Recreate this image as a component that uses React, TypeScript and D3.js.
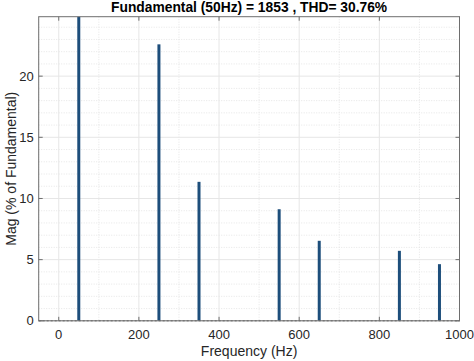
import React from "react";
import * as d3 from "d3";

const frequencies = [50, 250, 350, 550, 650, 850, 950];
const magnitudes = [100, 22.6, 11.36, 9.12, 6.54, 5.72, 4.63];
const xTicks = [0, 200, 400, 600, 800, 1000];
const yTicks = [0, 5, 10, 15, 20];
const xMinor = [-50, 100, 300, 500, 700, 900];
const yMinor = d3.range(1, 25).filter((v) => v % 5 !== 0);
const titleText = "Fundamental (50Hz) = 1853 , THD= 30.76%";
const xLabel = "Frequency (Hz)";
const yLabel = "Mag (% of Fundamental)";

const W = 474;
const H = 361;
const m = { left: 38.7, right: 459.5, top: 16.7, bottom: 320.8 };

export default function App() {
  const x = d3.scaleLinear().domain([-50, 1000]).range([m.left, m.right]);
  const y = d3.scaleLinear().domain([0, 24.86]).range([m.bottom, m.top]);
  const font = "'Liberation Sans', Arial, sans-serif";
  const tickColor = "#262626";
  const axisColor = "#6e6e6e";
  const barW = 3;
  return (
    <svg width={W} height={H} style={{ position: "absolute", left: 0, top: 0, background: "#fff" }} fontFamily={font}>
      <defs>
        <clipPath id="plot">
          <rect x={m.left} y={m.top} width={m.right - m.left} height={m.bottom - m.top} />
        </clipPath>
      </defs>
      <rect x={m.left} y={m.top} width={m.right - m.left} height={m.bottom - m.top} fill="#fff" />
      {/* minor grid */}
      {xMinor.map((v) => (
        <line key={"xm" + v} x1={x(v)} x2={x(v)} y1={m.top} y2={m.bottom} stroke="#e0e0e0" strokeWidth={0.8} strokeDasharray="1,1.5" />
      ))}
      {yMinor.map((v) => (
        <line key={"ym" + v} x1={m.left} x2={m.right} y1={y(v)} y2={y(v)} stroke="#e0e0e0" strokeWidth={0.8} strokeDasharray="1,1.5" />
      ))}
      {/* major grid */}
      {xTicks.map((v) => (
        <line key={"xg" + v} x1={x(v)} x2={x(v)} y1={m.top} y2={m.bottom} stroke="#e6e6e6" strokeWidth={1} />
      ))}
      {yTicks.map((v) => (
        <line key={"yg" + v} x1={m.left} x2={m.right} y1={y(v)} y2={y(v)} stroke="#e6e6e6" strokeWidth={1} />
      ))}
      {/* bars */}
      <g clipPath="url(#plot)">
        {frequencies.map((f, i) => (
          <rect
            key={"b" + f}
            x={x(f) - barW / 2}
            y={y(magnitudes[i])}
            width={barW}
            height={y(0) - y(magnitudes[i])}
            fill="#1d4e7b"
          />
        ))}
      </g>
      {/* baseline */}
      <line x1={m.left} x2={m.right} y1={y(0)} y2={y(0)} stroke="#333" strokeWidth={0.8} strokeDasharray="2,2" />
      {/* box */}
      <rect x={m.left} y={m.top} width={m.right - m.left} height={m.bottom - m.top} fill="none" stroke={axisColor} strokeWidth={1} />
      {/* ticks */}
      {xTicks.map((v) => (
        <g key={"xt" + v}>
          <line x1={x(v)} x2={x(v)} y1={m.bottom} y2={m.bottom - 4} stroke={axisColor} />
          <line x1={x(v)} x2={x(v)} y1={m.top} y2={m.top + 4} stroke={axisColor} />
          <text x={x(v)} y={m.bottom + 18} textAnchor="middle" fontSize={13} fill={tickColor}>
            {v}
          </text>
        </g>
      ))}
      {yTicks.map((v) => (
        <g key={"yt" + v}>
          <line x1={m.left} x2={m.left + 4} y1={y(v)} y2={y(v)} stroke={axisColor} />
          <line x1={m.right} x2={m.right - 4} y1={y(v)} y2={y(v)} stroke={axisColor} />
          <text x={m.left - 5} y={y(v) + 4.5} textAnchor="end" fontSize={13} fill={tickColor}>
            {v}
          </text>
        </g>
      ))}
      <text x={(m.left + m.right) / 2} y={12} textAnchor="middle" fontSize={13.8} fontWeight="bold" fill="#000">
        {titleText}
      </text>
      <text x={(m.left + m.right) / 2} y={356} textAnchor="middle" fontSize={14} fill={tickColor}>
        {xLabel}
      </text>
      <text
        transform={`translate(16, ${(m.top + m.bottom) / 2}) rotate(-90)`}
        textAnchor="middle"
        fontSize={14}
        fill={tickColor}
      >
        {yLabel}
      </text>
    </svg>
  );
}
